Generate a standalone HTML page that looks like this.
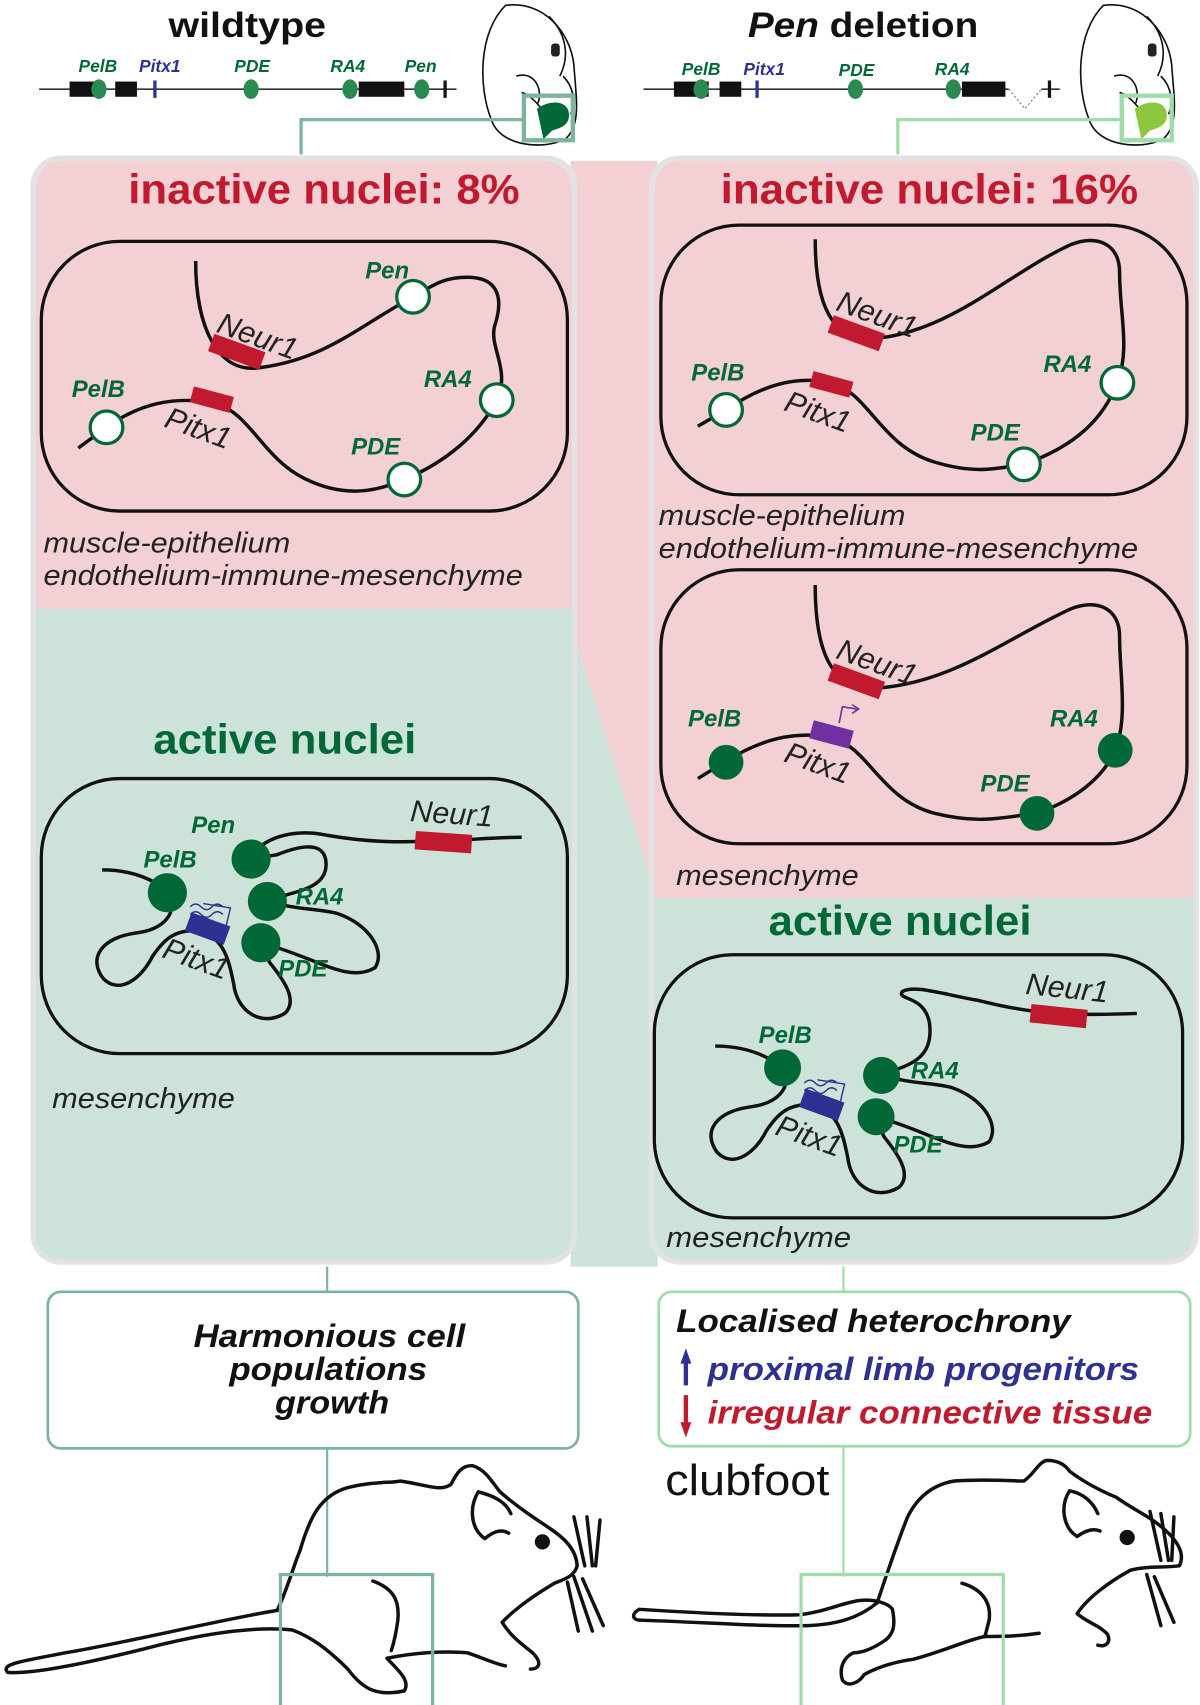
<!DOCTYPE html>
<html><head><meta charset="utf-8"><style>
html,body{margin:0;padding:0;background:#fff}
svg{display:block}
text{font-family:"Liberation Sans",sans-serif}
.it{font-style:italic;fill:#222}
.ch{fill:none;stroke:#111;stroke-width:3.2}
</style></head><body>
<svg width="1200" height="1705" viewBox="0 0 1104 1568" preserveAspectRatio="none" xmlns="http://www.w3.org/2000/svg">
<polygon points="525,148 605,148 605,828 525,575" fill="#f2d0d3"/>
<polygon points="525,575 605,828 605,1165 525,1165" fill="#cde3da"/>
<rect x="28" y="143" width="503" height="1020" rx="28" fill="#e2e2e2"/>
<path d="M58,148 H496 Q526,148 526,178 V560 H33 V178 Q33,148 58,148Z" fill="#f2d0d3"/>
<path d="M33,560 H526 V1132 Q526,1158 500,1158 H58 Q33,1158 33,1132Z" fill="#cde3da"/>
<rect x="597" y="143" width="506" height="1020" rx="28" fill="#e2e2e2"/>
<path d="M628,148 H1073 Q1098,148 1098,178 V826 H602 V178 Q602,148 628,148Z" fill="#f2d0d3"/>
<path d="M602,826 H1098 V1132 Q1098,1158 1073,1158 H628 Q602,1158 602,1132Z" fill="#cde3da"/>

<text x="155" y="34" font-size="32" font-weight="bold" fill="#111" textLength="145" lengthAdjust="spacingAndGlyphs">wildtype</text>
<text x="688" y="34" font-size="32" font-weight="bold" fill="#111" textLength="212" lengthAdjust="spacingAndGlyphs"><tspan font-style="italic">Pen</tspan> deletion</text>

<g font-size="16" font-style="italic" font-weight="bold">
<line x1="36" y1="82" x2="420" y2="82" stroke="#333" stroke-width="1.5"/>
<rect x="64" y="75" width="32" height="14" fill="#111"/><rect x="106" y="75" width="20" height="14" fill="#111"/>
<rect x="330" y="75" width="42" height="14" fill="#111"/>
<rect x="141" y="74" width="3" height="16" fill="#2e3192"/><rect x="408" y="74" width="3" height="16" fill="#111"/>
<ellipse cx="91" cy="82" rx="7" ry="9" fill="#2a8a50"/><ellipse cx="231" cy="82" rx="7" ry="9" fill="#2a8a50"/>
<ellipse cx="322" cy="82" rx="7" ry="9" fill="#2a8a50"/><ellipse cx="388" cy="82" rx="7" ry="9" fill="#2a8a50"/>
<text x="90" y="66" fill="#006837" text-anchor="middle">PelB</text>
<text x="147" y="66" fill="#2e3192" text-anchor="middle">Pitx1</text>
<text x="232" y="66" fill="#006837" text-anchor="middle">PDE</text>
<text x="320" y="66" fill="#006837" text-anchor="middle">RA4</text>
<text x="387" y="66" fill="#006837" text-anchor="middle">Pen</text>
<line x1="592" y1="82" x2="928" y2="82" stroke="#333" stroke-width="1.5"/>
<line x1="958" y1="82" x2="975" y2="82" stroke="#333" stroke-width="1.5"/>
<path d="M928,82 L943,100 L958,82" fill="none" stroke="#777" stroke-dasharray="2,2"/>
<rect x="620" y="75" width="32" height="14" fill="#111"/><rect x="662" y="75" width="20" height="14" fill="#111"/>
<rect x="885" y="75" width="40" height="14" fill="#111"/>
<rect x="695" y="74" width="3" height="16" fill="#2e3192"/><rect x="964" y="74" width="3" height="16" fill="#111"/>
<ellipse cx="645" cy="82" rx="7" ry="9" fill="#2a8a50"/><ellipse cx="787" cy="82" rx="7" ry="9" fill="#2a8a50"/>
<ellipse cx="877" cy="82" rx="7" ry="9" fill="#2a8a50"/>
<text x="645" y="69" fill="#006837" text-anchor="middle">PelB</text>
<text x="703" y="69" fill="#2e3192" text-anchor="middle">Pitx1</text>
<text x="788" y="70" fill="#006837" text-anchor="middle">PDE</text>
<text x="876" y="69" fill="#006837" text-anchor="middle">RA4</text>
</g>

<g fill="none" stroke="#111" stroke-width="1.5">
<path d="M465,5 C500,0 525,30 528,60 C530,90 535,115 520,128 C500,138 460,135 452,110 C440,80 440,30 465,5Z"/>
<path d="M505,15 C520,30 525,50 515,70 M475,70 C490,65 500,80 495,95 M480,85 C490,88 498,100 505,108 M518,70 C528,80 530,95 525,105"/>
<path d="M1015,5 C1050,0 1075,30 1078,60 C1080,90 1085,115 1070,128 C1050,138 1010,135 1002,110 C990,80 990,30 1015,5Z"/>
<path d="M1055,15 C1070,30 1075,50 1065,70 M1025,70 C1040,65 1050,80 1045,95 M1030,85 C1040,88 1048,100 1055,108 M1068,70 C1078,80 1080,95 1075,105"/>
</g>
<rect x="507" y="40" width="8" height="12" rx="3" fill="#222"/><rect x="1056" y="40" width="8" height="12" rx="3" fill="#222"/>
<path d="M494,100 C505,92 520,92 523,102 C526,115 515,118 508,120 L500,128 Z" fill="#006837"/>
<path d="M1044,100 C1055,92 1070,92 1073,102 C1076,115 1065,118 1058,120 L1050,128 Z" fill="#8dc63f"/>
<rect x="482" y="88" width="45" height="41" fill="none" stroke="#7db59a" stroke-width="4"/>
<polyline points="482,110 277,110 277,142" fill="none" stroke="#7db59a" stroke-width="3"/>
<rect x="1032" y="88" width="46" height="41" fill="none" stroke="#a0dca8" stroke-width="4"/>
<polyline points="1032,110 826,110 826,142" fill="none" stroke="#a0dca8" stroke-width="3"/>

<text x="118" y="187" font-size="38" font-weight="bold" fill="#c1192d" textLength="360" lengthAdjust="spacingAndGlyphs">inactive nuclei: 8%</text>
<text x="663" y="187" font-size="38" font-weight="bold" fill="#c1192d" textLength="384" lengthAdjust="spacingAndGlyphs">inactive nuclei: 16%</text>
<text x="141" y="693" font-size="38" font-weight="bold" fill="#006837" textLength="242" lengthAdjust="spacingAndGlyphs">active nuclei</text>
<text x="707" y="860" font-size="38" font-weight="bold" fill="#006837" textLength="242" lengthAdjust="spacingAndGlyphs">active nuclei</text>

<g fill="none" stroke="#111" stroke-width="3">
<rect x="38" y="222" width="484" height="248" rx="72"/>
<rect x="608" y="207" width="484" height="248" rx="72"/>
<rect x="608" y="524" width="484" height="252" rx="72"/>
<rect x="38" y="716" width="484" height="253" rx="72"/>
<rect x="602" y="878" width="486" height="242" rx="72"/>
</g>

<path class="ch" d="M72,412 L98,393 C130,370 160,365 195,370 C230,378 240,420 280,440 C320,460 350,450 372,441 C410,425 440,400 457,368 C470,340 450,320 455,300 C465,270 455,255 430,255 C405,255 395,265 380,273 C330,300 300,330 240,338 C200,345 180,300 180,240"/>
<circle cx="98" cy="393" r="15" fill="#fff" stroke="#006837" stroke-width="3"/>
<circle cx="372" cy="441" r="15" fill="#fff" stroke="#006837" stroke-width="3"/>
<circle cx="457" cy="368" r="15" fill="#fff" stroke="#006837" stroke-width="3"/>
<circle cx="380" cy="273" r="15" fill="#fff" stroke="#006837" stroke-width="3"/>
<rect x="193" y="315" width="50" height="17" fill="#c1192d" transform="rotate(20 218 323)"/>
<rect x="176" y="360" width="38" height="15" fill="#c1192d" transform="rotate(15 195 367)"/>
<g font-size="22" font-weight="bold" font-style="italic" fill="#006837">
<text x="66" y="365">PelB</text><text x="336" y="256">Pen</text><text x="390" y="356">RA4</text><text x="323" y="418">PDE</text></g>
<g font-size="28" font-style="italic" fill="#222">
<text x="198" y="305" transform="rotate(20 198 305)">Neur1</text>
<text x="150" y="392" transform="rotate(20 150 392)">Pitx1</text></g>
<text class="it" x="40" y="508" font-size="26" textLength="227" lengthAdjust="spacingAndGlyphs">muscle-epithelium</text>
<text class="it" x="40" y="538" font-size="26" textLength="441" lengthAdjust="spacingAndGlyphs">endothelium-immune-mesenchyme</text>

<path class="ch" d="M642,392 L668,377 C700,355 730,345 765,352 C800,362 810,410 860,425 C900,437 920,430 942,427 C990,410 1015,385 1028,352 C1040,320 1030,290 1030,250 C1030,225 1010,215 985,225 C930,250 880,300 815,310 C770,318 750,290 750,220"/>
<circle cx="668" cy="377" r="15" fill="#fff" stroke="#006837" stroke-width="3"/>
<circle cx="942" cy="427" r="15" fill="#fff" stroke="#006837" stroke-width="3"/>
<circle cx="1028" cy="352" r="15" fill="#fff" stroke="#006837" stroke-width="3"/>
<rect x="763" y="298" width="50" height="17" fill="#c1192d" transform="rotate(20 788 306)"/>
<rect x="746" y="346" width="38" height="15" fill="#c1192d" transform="rotate(15 765 353)"/>
<g font-size="22" font-weight="bold" font-style="italic" fill="#006837">
<text x="636" y="350">PelB</text><text x="960" y="342">RA4</text><text x="893" y="405">PDE</text></g>
<g font-size="28" font-style="italic" fill="#222">
<text x="768" y="285" transform="rotate(20 768 285)">Neur1</text>
<text x="720" y="377" transform="rotate(20 720 377)">Pitx1</text></g>
<text class="it" x="606" y="483" font-size="26" textLength="227" lengthAdjust="spacingAndGlyphs">muscle-epithelium</text>
<text class="it" x="606" y="513" font-size="26" textLength="441" lengthAdjust="spacingAndGlyphs">endothelium-immune-mesenchyme</text>

<path class="ch" d="M642,716 L668,700 C700,680 730,672 765,678 C800,688 810,735 860,748 C900,758 920,752 954,748 C990,735 1015,715 1026,690 C1038,660 1030,620 1030,585 C1030,560 1010,550 985,560 C930,585 880,625 815,632 C770,638 750,610 750,538"/>
<circle cx="668" cy="701" r="16" fill="#006837"/>
<circle cx="954" cy="748" r="16" fill="#006837"/>
<circle cx="1026" cy="690" r="16" fill="#006837"/>
<rect x="763" y="618" width="50" height="17" fill="#c1192d" transform="rotate(20 788 626)"/>
<rect x="746" y="667" width="38" height="17" fill="#7030a0" transform="rotate(15 765 675)"/>
<path d="M772,665 L775,650 L788,652 M784,648 L790,652 L784,656" fill="none" stroke="#7030a0" stroke-width="1.5"/>
<g font-size="22" font-weight="bold" font-style="italic" fill="#006837">
<text x="633" y="668">PelB</text><text x="966" y="668">RA4</text><text x="902" y="728">PDE</text></g>
<g font-size="28" font-style="italic" fill="#222">
<text x="768" y="605" transform="rotate(20 768 605)">Neur1</text>
<text x="720" y="700" transform="rotate(20 720 700)">Pitx1</text></g>
<text class="it" x="622" y="814" font-size="26" textLength="168" lengthAdjust="spacingAndGlyphs">mesenchyme</text>

<path class="ch" d="M94,800 C120,800 140,808 155,820 C165,840 150,855 125,858 C95,862 80,880 95,900 C110,915 130,900 140,880 C150,865 160,855 180,856 C205,860 210,880 215,905 C218,930 240,945 262,932 C275,920 260,900 248,885 L240,867 C290,880 320,905 345,890 C355,875 340,850 310,840 C290,835 270,837 246,828 C270,820 300,818 300,795 C300,770 270,780 255,786 L231,790 C240,770 270,762 300,768 C340,775 370,775 407,773 C430,773 450,770 480,770"/>
<circle cx="154" cy="821" r="18" fill="#006837"/>
<circle cx="231" cy="790" r="18" fill="#006837"/>
<circle cx="246" cy="829" r="18" fill="#006837"/>
<circle cx="240" cy="867" r="18" fill="#006837"/>
<rect x="382" y="766" width="52" height="17" fill="#c1192d" transform="rotate(4 408 774)"/>
<rect x="172" y="845" width="38" height="18" fill="#2e3192" transform="rotate(20 191 854)"/>
<path d="M175,834 q5,-5 10,0 t10,0 t10,0 M175,841 q5,-5 10,0 t10,0 t10,0 M187,831 L212,835 L206,860" fill="none" stroke="#2e3192" stroke-width="1.3"/>
<g font-size="22" font-weight="bold" font-style="italic" fill="#006837">
<text x="132" y="798">PelB</text><text x="176" y="766">Pen</text><text x="272" y="832">RA4</text><text x="256" y="898">PDE</text></g>
<g font-size="28" font-style="italic" fill="#222">
<text x="377" y="755" transform="rotate(4 377 755)">Neur1</text>
<text x="148" y="880" transform="rotate(20 148 880)">Pitx1</text></g>
<text class="it" x="48" y="1019" font-size="26" textLength="168" lengthAdjust="spacingAndGlyphs">mesenchyme</text>

<path class="ch" d="M658,962 C685,962 705,970 720,982 C730,1000 715,1015 690,1018 C660,1022 645,1040 660,1060 C675,1075 695,1060 705,1040 C715,1025 725,1015 745,1016 C770,1020 775,1040 780,1065 C783,1090 805,1105 827,1092 C840,1080 825,1060 813,1045 L806,1027 C855,1040 885,1065 910,1050 C920,1035 905,1010 875,1000 C855,995 835,997 811,988 C835,980 860,975 855,940 C850,915 825,920 830,912 C840,905 870,915 900,920 C940,930 970,935 1046,932"/>
<circle cx="720" cy="982" r="17" fill="#006837"/>
<circle cx="811" cy="989" r="17" fill="#006837"/>
<circle cx="806" cy="1027" r="17" fill="#006837"/>
<rect x="948" y="926" width="52" height="17" fill="#c1192d" transform="rotate(6 974 934)"/>
<rect x="737" y="1007" width="38" height="18" fill="#2e3192" transform="rotate(20 756 1016)"/>
<path d="M740,996 q5,-5 10,0 t10,0 t10,0 M740,1003 q5,-5 10,0 t10,0 t10,0 M752,993 L777,997 L771,1022" fill="none" stroke="#2e3192" stroke-width="1.3"/>
<g font-size="22" font-weight="bold" font-style="italic" fill="#006837">
<text x="698" y="959">PelB</text><text x="838" y="992">RA4</text><text x="822" y="1060">PDE</text></g>
<g font-size="28" font-style="italic" fill="#222">
<text x="943" y="914" transform="rotate(6 943 914)">Neur1</text>
<text x="712" y="1043" transform="rotate(20 712 1043)">Pitx1</text></g>
<text class="it" x="613" y="1147" font-size="26" textLength="170" lengthAdjust="spacingAndGlyphs">mesenchyme</text>

<line x1="301" y1="1165" x2="301" y2="1188" stroke="#7db59a" stroke-width="2"/>
<line x1="301" y1="1332" x2="301" y2="1450" stroke="#7db59a" stroke-width="2"/>
<line x1="776" y1="1165" x2="776" y2="1188" stroke="#a0dca8" stroke-width="2"/>
<line x1="776" y1="1330" x2="776" y2="1450" stroke="#a0dca8" stroke-width="2"/>
<rect x="44" y="1188" width="488" height="144" rx="12" fill="#fff" stroke="#7db59a" stroke-width="2.5"/>
<rect x="606" y="1188" width="489" height="142" rx="12" fill="#fff" stroke="#a0dca8" stroke-width="2.5"/>
<g font-size="30" font-weight="bold" font-style="italic" fill="#111">
<text x="178" y="1239" textLength="250" lengthAdjust="spacingAndGlyphs">Harmonious cell</text>
<text x="211" y="1269" textLength="182" lengthAdjust="spacingAndGlyphs">populations</text>
<text x="253" y="1300" textLength="105" lengthAdjust="spacingAndGlyphs">growth</text></g>
<text x="622" y="1225" font-size="30" font-weight="bold" font-style="italic" fill="#111" textLength="363" lengthAdjust="spacingAndGlyphs">Localised heterochrony</text>
<text x="651" y="1269" font-size="30" font-weight="bold" font-style="italic" fill="#2e3192" textLength="397" lengthAdjust="spacingAndGlyphs">proximal limb progenitors</text>
<text x="651" y="1309" font-size="30" font-weight="bold" font-style="italic" fill="#c1192d" textLength="409" lengthAdjust="spacingAndGlyphs">irregular connective tissue</text>
<path d="M631,1240 L626,1254 L629,1254 L629,1274 L633,1274 L633,1254 L636,1254Z" fill="#2e3192"/>
<path d="M631,1322 L626,1308 L629,1308 L629,1283 L633,1283 L633,1308 L636,1308Z" fill="#c1192d"/>
<text x="612" y="1375" font-size="40" fill="#111" textLength="151" lengthAdjust="spacingAndGlyphs">clubfoot</text>

<g fill="none" stroke="#111" stroke-width="3.2" stroke-linecap="round" stroke-linejoin="round">
<!-- left mouse -->
<path d="M255,1481 C265,1460 270,1440 276,1426 C285,1395 295,1375 320,1368 C345,1362 360,1364 368,1362 C395,1366 405,1372 415,1365 C420,1355 425,1347 435,1348 C447,1352 452,1362 460,1372 C475,1385 490,1395 505,1405 C520,1415 530,1425 531,1440 C528,1450 520,1452 510,1456 C495,1465 475,1478 462,1492 C470,1505 480,1512 490,1520 C500,1530 495,1535 488,1535"/>
<path d="M440,1372 C432,1385 432,1405 446,1415 C452,1410 460,1405 468,1410 M440,1372 C452,1375 465,1380 470,1392"/>
<path d="M255,1481 C200,1490 120,1510 60,1520 C20,1528 0,1530 7,1538 C30,1540 80,1530 150,1512 C200,1500 240,1496 269,1499 C285,1505 300,1515 320,1535 C335,1555 348,1560 372,1555 C378,1545 365,1535 356,1525 C380,1520 410,1518 430,1520 C445,1525 455,1530 465,1532"/>
<path d="M343,1454 C360,1460 368,1470 366,1490 C364,1505 362,1512 360,1518"/>
<path d="M528,1395 L538,1440 M540,1395 L545,1440 M552,1398 L548,1440 M528,1450 L545,1500 M536,1452 L555,1495 M522,1455 L532,1500"/>
<!-- right mouse -->
<path d="M807,1474 C815,1450 825,1420 835,1395 C845,1375 860,1365 878,1362 C905,1360 930,1362 942,1362 C952,1355 955,1345 963,1343 C973,1343 980,1347 984,1353 C1000,1365 1015,1372 1027,1377 C1045,1390 1060,1395 1075,1410 C1085,1420 1090,1430 1085,1440 C1070,1442 1055,1440 1040,1444 C1020,1455 1000,1470 991,1484 C1000,1492 1012,1495 1019,1503 C1022,1510 1018,1515 1010,1513 M956,1502 C935,1505 920,1505 906,1505"/>
<path d="M984,1371 C975,1385 978,1405 991,1413 C998,1408 1005,1405 1012,1408 M984,1371 C995,1373 1005,1380 1010,1392"/>
<path d="M588,1480 C650,1484 700,1486 736,1485 C760,1482 775,1474 790,1472 C805,1470 818,1475 821,1480 C824,1495 822,1502 815,1508 C805,1515 795,1520 785,1520 C775,1525 772,1535 775,1545 C780,1552 790,1548 795,1540 C810,1532 825,1528 840,1526 C870,1518 890,1508 906,1505 M588,1480 C580,1485 582,1490 590,1490 C650,1492 700,1496 743,1495 C770,1494 790,1488 807,1474"/>
<path d="M885,1456 C905,1462 912,1475 910,1490 C908,1498 907,1502 906,1505"/>
<path d="M1058,1390 L1068,1435 M1068,1392 L1075,1435 M1080,1395 L1078,1435 M1055,1448 L1068,1495 M1062,1450 L1080,1492"/>
</g>
<circle cx="499" cy="1418" r="7" fill="#111"/><circle cx="1037" cy="1414" r="7" fill="#111"/>
<rect x="258" y="1448" width="140" height="125" fill="none" stroke="#7db59a" stroke-width="3"/>
<rect x="737" y="1448" width="186" height="125" fill="none" stroke="#a0dca8" stroke-width="3"/>
</svg>
</body></html>
